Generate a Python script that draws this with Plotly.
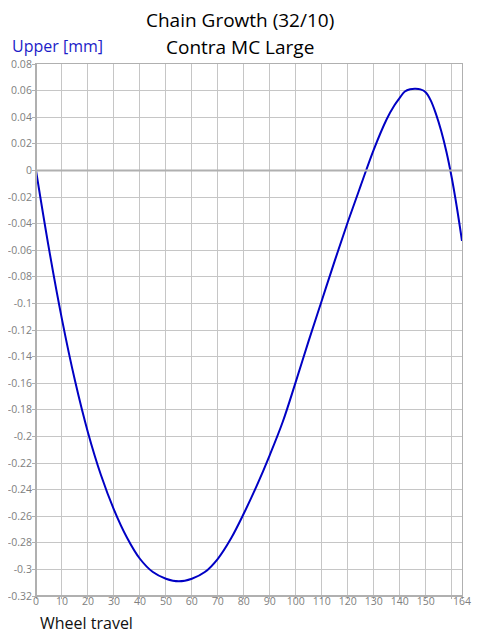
import plotly.graph_objects as go

# wheel travel [mm] and chain growth [mm]
travel = [0, 5, 10, 15, 20, 25, 30, 35, 40, 45, 50, 55, 60, 65, 70, 75, 80, 85,
          90, 95, 100, 105, 110, 115, 120, 125, 130, 135, 138, 140, 142, 144, 146,
          148, 150, 152, 154, 156, 158, 160, 162, 164]
growth = [0.0, -0.059, -0.112, -0.158, -0.197, -0.229, -0.255, -0.276, -0.292,
          -0.302, -0.307, -0.309, -0.307, -0.302, -0.292, -0.277, -0.258, -0.237,
          -0.214, -0.189, -0.159, -0.128, -0.098, -0.068, -0.039, -0.0115, 0.0155,
          0.0385, 0.049, 0.0545, 0.0593, 0.061, 0.0613, 0.0609, 0.0588, 0.0525,
          0.0423, 0.0296, 0.014, -0.005, -0.0275, -0.053]

x_tickvals = [0, 10, 20, 30, 40, 50, 60, 70, 80, 90, 100, 110, 120, 130, 140, 150, 160, 164]
x_ticktext = ['0', '10', '20', '30', '40', '50', '60', '70', '80', '90', '100',
              '110', '120', '130', '140', '150', '', '164']
y_tickvals = [0.08, 0.06, 0.04, 0.02, 0, -0.02, -0.04, -0.06, -0.08, -0.1, -0.12,
              -0.14, -0.16, -0.18, -0.2, -0.22, -0.24, -0.26, -0.28, -0.3, -0.32]
y_ticktext = ['0.08', '0.06', '0.04', '0.02', '0', '-0.02', '-0.04', '-0.06', '-0.08',
              '-0.1', '-0.12', '-0.14', '-0.16', '-0.18', '-0.2', '-0.22', '-0.24',
              '-0.26', '-0.28', '-0.3', '-0.32']

FONT = 'Open Sans, Noto Sans, sans-serif'
GRID = '#c6c6c6'
AXIS = '#b0b0b0'

fig = go.Figure()
fig.add_trace(go.Scatter(
    x=travel, y=growth, mode='lines', line=dict(color='#0000c4', width=2, shape='spline'),
    hoverinfo='skip', showlegend=False,
))

# page body has an 8px margin, so margins below are 8px smaller on left/top
fig.add_annotation(xref='paper', yref='paper', x=0.479, y=1, yshift=29,
                   text='Chain Growth (32/10)', showarrow=False,
                   xanchor='center', yanchor='bottom',
                   font=dict(family=FONT, size=19, color='#000'))
fig.add_annotation(xref='paper', yref='paper', x=0.479, y=1, yshift=2,
                   text='Contra MC Large', showarrow=False,
                   xanchor='center', yanchor='bottom',
                   font=dict(family=FONT, size=19, color='#000'))
fig.add_annotation(xref='paper', yref='paper', x=-0.062, y=1, yshift=5,
                   text='Upper [mm]', showarrow=False, xanchor='left', yanchor='bottom',
                   font=dict(family=FONT, size=16, color='#1c1cc8'))
fig.add_annotation(xref='paper', yref='paper', x=0.005, y=0, yshift=-14,
                   text='Wheel travel', showarrow=False, xanchor='left', yanchor='top',
                   font=dict(family=FONT, size=16, color='#111'))

axis_common = dict(showgrid=True, gridcolor=GRID, gridwidth=1, showline=True,
                   linecolor=AXIS, linewidth=1, mirror=True, ticks='outside',
                   tickcolor=AXIS, zeroline=False, automargin=False,
                   tickfont=dict(family=FONT, size=10.5, color='#808080'))

fig.update_layout(
    width=480, height=640,
    margin=dict(l=28, r=26, t=56, b=52),
    paper_bgcolor='white', plot_bgcolor='white',
    xaxis=dict(range=[0, 164], tickmode='array', tickvals=x_tickvals, ticktext=x_ticktext,
               ticklen=2, ticklabelstandoff=-7, **axis_common),
    yaxis=dict(range=[-0.32, 0.08], tickmode='array', tickvals=y_tickvals, ticktext=y_ticktext,
               ticklen=3, ticklabelstandoff=-2, **axis_common),
)
fig.add_hline(y=0, line_color=AXIS, line_width=2)
fig.add_vline(x=0, line_color=AXIS, line_width=2)
fig.add_hline(y=-0.32, line_color=AXIS, line_width=2)

fig.write_html('out.html')
